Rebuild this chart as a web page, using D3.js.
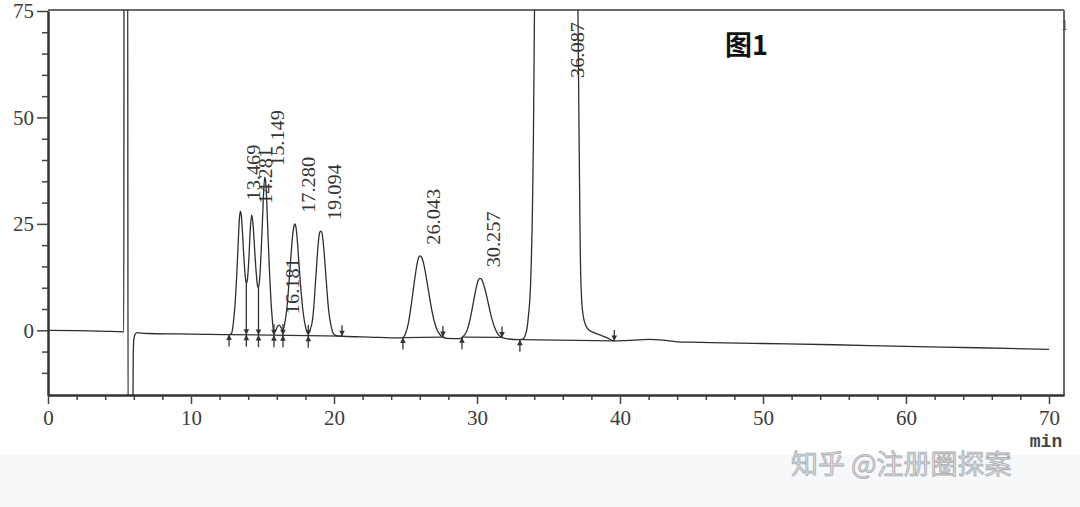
<!DOCTYPE html>
<html><head><meta charset="utf-8">
<script src="https://cdn.jsdelivr.net/npm/d3@7"></script>
<style>body{margin:0;background:#fff}svg{display:block}</style>
</head><body><svg id="c" width="1080" height="507"></svg>
<script>
// chromatogram trace (time in min, signal)
const traceTime = [0,2,4,5.25,5.3,5.32,5.57,5.6,5.93,5.96,6.0,6.1,6.25,6.5,7,9,11,12.5,12.7,12.85,
 13.0,13.1,13.2,13.3,13.38,13.45,13.52,13.6,13.7,13.8,13.87,13.95,14.05,14.15,14.25,14.35,14.45,14.55,14.65,14.72,
 14.8,14.9,15.0,15.08,15.16,15.22,15.3,15.4,15.5,15.6,15.7,15.8,15.95,16.05,16.18,16.3,16.43,16.55,16.7,16.85,
 17.0,17.1,17.2,17.27,17.35,17.45,17.55,17.7,17.85,18.0,18.2,18.35,18.5,18.6,18.7,18.8,18.9,19.0,19.08,19.15,
 19.25,19.35,19.45,19.55,19.65,19.8,19.95,20.2,20.6,22.5,24.6,24.82,25.02,25.22,25.42,25.62,25.82,25.92,26.02,26.12,
 26.22,26.42,26.62,26.82,27.02,27.22,27.42,27.62,27.9,28.8,29.01,29.21,29.41,29.61,29.81,30.01,30.11,30.21,30.31,30.41,
 30.61,30.81,31.01,31.21,31.41,31.61,31.81,32.2,33.0,33.2,33.35,33.5,33.6,33.75,33.87,33.94,34.02,34.2,35.0,36.09,
 36.8,37.06,37.15,37.22,37.32,37.45,37.6,37.85,38.13,38.6,39.07,39.6,40.2,41,42,43,44,45,50,55,60,65,70];
const traceSignal = [0,-0.1,-0.25,-0.35,-0.4,95,95,-25,-25,-6,-2.2,-0.9,-0.55,-0.65,-0.75,-0.85,-0.95,-1.0,-1.0,-0.6,
 3,7,13,20.5,26,27.9,27,23,17,12.5,11,12,17,24,27.1,24.5,19,14,10.5,10,
 12,18,26,32.5,36,35,30,21,13,6.5,2,-0.6,0.2,0.9,1.2,0.6,0.0,1.5,5,11,
 18,22,24.5,25,24,20.5,15.5,9,4,1,-0.7,0.3,2.5,6,11,16,20.5,23,23.3,23,
 20.5,16.5,12,7.5,4,1,-0.7,-1.3,-1.4,-1.6,-1.8,-1.7,-0.6,2.0,6.4,11.4,15.8,17.1,17.5,17.2,
 16.3,13.1,9.0,5.1,2.0,0.0,-1.05,-1.6,-1.9,-1.95,-1.5,-0.7,1.1,4.1,7.7,10.9,11.9,12.2,12.0,11.3,
 9.0,6.0,3.1,0.9,-0.6,-1.4,-1.8,-2.05,-2.2,-2.1,-1.4,0.5,3.5,11,27,43,75,130,320,400,
 250,75,42,19,7,3,1.2,0.0,-0.5,-1.1,-1.7,-2.5,-2.45,-2.3,-2.15,-2.3,-2.7,-2.8,-3.1,-3.4,-3.8,-4.1,-4.5];

const peakLabels = ["13.469","14.281","15.149","16.181","17.280","19.094","26.043","30.257","36.087"];
const peakTimes  = [13.469,14.281,15.149,16.181,17.280,19.094,26.043,30.257,36.087];
const peakApex   = [27.9,27.1,36,1.2,25,23.3,17.5,12.2,400];

const windowStart = [12.66,24.82,28.95,33.0];
const windowEnd   = [20.56,27.62,31.75,39.6];
const valleyTimes = [13.87,14.72,15.8,16.43,18.2];

const xMajorTicks = [0,10,20,30,40,50,60,70];
const xMinorTicks = [2,4,6,8,12,14,16,18,22,24,26,28,32,34,36,38,42,44,46,48,52,54,56,58,62,64,66,68];
const yMajorTicks = [0,25,50,75];
const yMinorTicks = [-10,-5,5,10,15,20,30,35,40,45,55,60,65,70];

const title = "图1";
const xUnit = "min";
const watermark = "知乎 @注册圈探案";

const svg = d3.select("#c");
const L = 48, R = 1064, T = 11, B = 395;
const x = d3.scaleLinear().domain([0, 71.05]).range([L, R]);
const y = d3.scaleLinear().domain([-15.2, 75]).range([B, T]);
const sig = d3.scaleLinear().domain(traceTime).range(traceSignal);

// bottom band
svg.append("rect").attr("x",0).attr("y",455).attr("width",1080).attr("height",52).attr("fill","#f6f8fa");

svg.append("defs").append("clipPath").attr("id","pc")
  .append("rect").attr("x",L).attr("y",T-1).attr("width",R-L).attr("height",B-T+1);

// frame
svg.append("line").attr("x1",L).attr("x2",R).attr("y1",10).attr("y2",10).attr("stroke","#6a6a6a").attr("stroke-width",2);
svg.append("line").attr("x1",R).attr("x2",R).attr("y1",10).attr("y2",B).attr("stroke","#6a6a6a").attr("stroke-width",2);

// axes
const font = "'Liberation Serif', serif";
const gx = svg.append("g").attr("transform",`translate(0,${B})`);
gx.call(d3.axisBottom(x).tickValues(xMinorTicks).tickSize(5).tickSizeOuter(0).tickFormat(""));
gx.append("g").call(d3.axisBottom(x).tickValues(xMajorTicks).tickSize(9).tickSizeOuter(0).tickPadding(6).tickFormat(d3.format("d")));
gx.selectAll("path.domain").attr("stroke","#333").attr("stroke-width",2);
gx.selectAll("line").attr("stroke","#444").attr("stroke-width",1.5);
gx.selectAll("text").attr("font-family",font).attr("font-size",21).attr("fill","#3c3c3c");

const gy = svg.append("g").attr("transform",`translate(${L},0)`);
gy.call(d3.axisLeft(y).tickValues(yMinorTicks).tickSize(6).tickSizeOuter(0).tickFormat(""));
gy.append("g").call(d3.axisLeft(y).tickValues(yMajorTicks).tickSize(11).tickSizeOuter(0).tickPadding(3).tickFormat(d3.format("d")));
gy.selectAll("path.domain").attr("stroke","#333").attr("stroke-width",2);
gy.selectAll("line").attr("stroke","#444").attr("stroke-width",1.5);
gy.selectAll("text").attr("font-family",font).attr("font-size",21).attr("fill","#3c3c3c");

// trace
const line = d3.line().x((d,i)=>x(traceTime[i])).y((d,i)=>y(traceSignal[i])).curve(d3.curveMonotoneX);
svg.append("path").attr("clip-path","url(#pc)").attr("d", line(traceSignal))
  .attr("fill","none").attr("stroke","#2e2e2e").attr("stroke-width",1.3);

// integration baselines + markers
const mk = svg.append("g").attr("stroke","#333").attr("stroke-width",1.3).attr("fill","#333");
function arrowUp(px, py){
  mk.append("line").attr("x1",px).attr("x2",px).attr("y1",py).attr("y2",py+12);
  mk.append("path").attr("d",`M${px},${py}L${px-2.8},${py+5.5}L${px+2.8},${py+5.5}Z`).attr("stroke","none");
}
function arrowDown(px, py, top){
  mk.append("line").attr("x1",px).attr("x2",px).attr("y1",top).attr("y2",py);
  mk.append("path").attr("d",`M${px},${py}L${px-2.8},${py-5.5}L${px+2.8},${py-5.5}Z`).attr("stroke","none");
}
windowStart.forEach((s,i)=>{
  const e = windowEnd[i];
  const bl = d3.scaleLinear().domain([s,e]).range([sig(s), sig(e)]);
  mk.append("line").attr("x1",x(s)).attr("x2",x(e)).attr("y1",y(bl(s))).attr("y2",y(bl(e)));
  arrowUp(x(s), y(bl(s)));
  arrowDown(x(e), y(bl(e)), y(bl(e))-11);
  valleyTimes.filter(v=>v>s && v<e).forEach(v=>{
    const by = y(bl(v));
    const ty = Math.min(y(sig(v)), by-11);
    arrowDown(x(v), by, ty);
    arrowUp(x(v), by);
  });
});

// peak labels
peakLabels.forEach((lab,i)=>{
  const px = x(peakTimes[i]) + 19.5;
  const py = Math.max(y(peakApex[i]) - 11, y(75) + 67);
  svg.append("text").attr("transform",`translate(${px},${py}) rotate(-90)`)
    .attr("font-family",font).attr("font-size",18).attr("fill","#353535")
    .attr("textLength",56).attr("lengthAdjust","spacingAndGlyphs").text(lab);
});

// title & unit
svg.append("text").attr("x",725).attr("y",55).attr("font-family","'Noto Sans CJK SC', sans-serif")
  .attr("font-weight",700).attr("font-size",27).attr("fill","#111").text(title);
svg.append("text").attr("x",1046).attr("y",447).attr("text-anchor","middle")
  .attr("font-family","'Liberation Mono', monospace").attr("font-weight",700).attr("font-size",18).attr("fill","#444").text(xUnit);
svg.append("text").attr("x",1061).attr("y",30).attr("font-family",font).attr("font-size",14).attr("fill","#444").text("1");

// watermark
svg.append("text").attr("x",791).attr("y",474).attr("font-family","'Noto Sans CJK SC', sans-serif")
  .attr("font-size",27).attr("fill","#dcdee2").attr("stroke","#a9acb2").attr("stroke-width",0.8).text(watermark);
</script></body></html>
